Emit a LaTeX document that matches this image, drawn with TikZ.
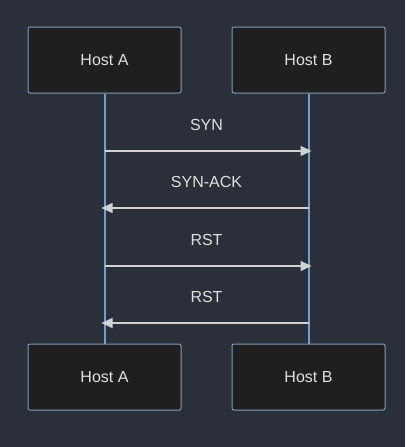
\documentclass[tikz,border=0pt]{standalone}
\usepackage{fontspec}
\setmainfont{Liberation Sans}
\usetikzlibrary{arrows.meta,calc}
\definecolor{diagramBackgroundColour}{HTML}{2A2F3A}
\definecolor{actorFillColour}{HTML}{1F1F1F}
\definecolor{actorBorderColour}{HTML}{7F9DBE}
\definecolor{lifelineColour}{HTML}{6F9FD0}
\definecolor{messageColour}{HTML}{D2D2D2}
\tikzset{
	actor/.style={draw=actorBorderColour,fill=actorFillColour,rounded corners=2pt,line width=1pt,minimum width=153pt,minimum height=66pt,text=white!88!black,font=\fontsize{16}{19}\selectfont},
	lifeline/.style={draw=lifelineColour,line width=2pt},
	message/.style={draw=messageColour,line width=1.5pt,shorten >=-3pt,-{Triangle[length=11pt,width=10pt]}},
	msglabel/.style={text=white!88!black,font=\fontsize{16}{19}\selectfont}
}

\begin{document}
\begin{tikzpicture}[x=1pt,y=-1pt]
\fill[diagramBackgroundColour] (0,0) rectangle (405,447);
\useasboundingbox (0,0) rectangle (405,447);
\node[actor] (top a) at (104.5,60) {Host A};
\node[actor] (top b) at (308.5,60) {Host B};
\node[actor] (bot a) at (104.5,377) {Host A};
\node[actor] (bot b) at (308.5,377) {Host B};
\draw[lifeline] (top a.south) -- (bot a.north);
\draw[lifeline] (top b.south) -- (bot b.north);
% messages
\foreach \y/\from/\to/\txt [count=\i] in {151/a/b/SYN,208/b/a/SYN-ACK,266/a/b/RST,323/b/a/RST}
{%
	\coordinate (start \i) at (top \from.south |- 0,\y);
	\coordinate (end \i) at (top \to.south |- 0,\y);
	\draw[message] (start \i) -- (end \i);
	\node[msglabel] (label \i) at ($(start \i)!.5!(end \i)+(0,-26)$) {\txt};
}%
\end{tikzpicture}
\end{document}
